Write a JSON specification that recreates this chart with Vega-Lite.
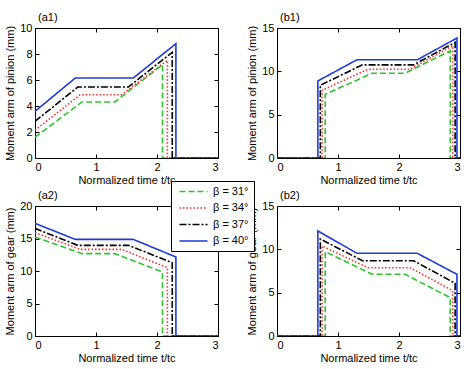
{
  "$schema": "https://vega.github.io/schema/vega-lite/v6.json",
  "padding": {"left": 4, "top": 11, "right": 8, "bottom": 8},
  "background": "white",
  "config": {
    "font": "Liberation Sans",
    "view": {"stroke": "black", "strokeWidth": 1},
    "style": {"guide-title": {"fontWeight": "normal"}},
    "axis": {"grid": false, "domainColor": "black", "tickColor": "black", "labelColor": "black", "titleColor": "black", "labelFontSize": 11, "titleFontSize": 11, "titleFontWeight": "normal", "tickSize": -4, "labelPadding": 7},
    "axisX": {"titlePadding": 2, "titleFontWeight": "normal"},
    "axisY": {"titlePadding": 4, "titleFontWeight": "normal"},
    "title": {"anchor": "start", "frame": "group", "fontSize": 11, "fontWeight": "normal", "offset": -1, "dx": 3},
    "legend": {"strokeColor": "black", "fillColor": "white", "padding": 5, "symbolType": "M-1,0H13", "symbolSize": 16, "symbolStrokeWidth": 1.6, "labelFontSize": 11, "labelOffset": 26, "rowPadding": 4.5, "cornerRadius": 0}
  },
  "data": {"values": [
    {"p":"a1","b":"β = 31°","i":0,"t":0,"v":1.59},{"p":"a1","b":"β = 31°","i":1,"t":0.77,"v":4.31},{"p":"a1","b":"β = 31°","i":2,"t":1.31,"v":4.31},{"p":"a1","b":"β = 31°","i":3,"t":2.09,"v":7.18},{"p":"a1","b":"β = 31°","i":4,"t":2.09,"v":0},{"p":"a1","b":"β = 31°","i":5,"t":3,"v":0},
    {"p":"a1","b":"β = 34°","i":0,"t":0,"v":2.13},{"p":"a1","b":"β = 34°","i":1,"t":0.74,"v":4.87},{"p":"a1","b":"β = 34°","i":2,"t":1.42,"v":4.87},{"p":"a1","b":"β = 34°","i":3,"t":2.17,"v":7.51},{"p":"a1","b":"β = 34°","i":4,"t":2.17,"v":0},{"p":"a1","b":"β = 34°","i":5,"t":3,"v":0},
    {"p":"a1","b":"β = 37°","i":0,"t":0,"v":2.82},{"p":"a1","b":"β = 37°","i":1,"t":0.70,"v":5.46},{"p":"a1","b":"β = 37°","i":2,"t":1.53,"v":5.46},{"p":"a1","b":"β = 37°","i":3,"t":2.25,"v":8.13},{"p":"a1","b":"β = 37°","i":4,"t":2.25,"v":0},{"p":"a1","b":"β = 37°","i":5,"t":3,"v":0},
    {"p":"a1","b":"β = 40°","i":0,"t":0,"v":3.59},{"p":"a1","b":"β = 40°","i":1,"t":0.66,"v":6.15},{"p":"a1","b":"β = 40°","i":2,"t":1.61,"v":6.15},{"p":"a1","b":"β = 40°","i":3,"t":2.31,"v":8.79},{"p":"a1","b":"β = 40°","i":4,"t":2.31,"v":0},{"p":"a1","b":"β = 40°","i":5,"t":3,"v":0},

    {"p":"a2","b":"β = 31°","i":0,"t":0,"v":15.23},{"p":"a2","b":"β = 31°","i":1,"t":0.77,"v":12.67},{"p":"a2","b":"β = 31°","i":2,"t":1.31,"v":12.67},{"p":"a2","b":"β = 31°","i":3,"t":2.09,"v":9.85},{"p":"a2","b":"β = 31°","i":4,"t":2.09,"v":0},{"p":"a2","b":"β = 31°","i":5,"t":3,"v":0},
    {"p":"a2","b":"β = 34°","i":0,"t":0,"v":15.9},{"p":"a2","b":"β = 34°","i":1,"t":0.74,"v":13.33},{"p":"a2","b":"β = 34°","i":2,"t":1.42,"v":13.33},{"p":"a2","b":"β = 34°","i":3,"t":2.17,"v":10.51},{"p":"a2","b":"β = 34°","i":4,"t":2.17,"v":0},{"p":"a2","b":"β = 34°","i":5,"t":3,"v":0},
    {"p":"a2","b":"β = 37°","i":0,"t":0,"v":16.56},{"p":"a2","b":"β = 37°","i":1,"t":0.70,"v":13.95},{"p":"a2","b":"β = 37°","i":2,"t":1.53,"v":13.95},{"p":"a2","b":"β = 37°","i":3,"t":2.25,"v":11.28},{"p":"a2","b":"β = 37°","i":4,"t":2.25,"v":0},{"p":"a2","b":"β = 37°","i":5,"t":3,"v":0},
    {"p":"a2","b":"β = 40°","i":0,"t":0,"v":17.33},{"p":"a2","b":"β = 40°","i":1,"t":0.66,"v":14.87},{"p":"a2","b":"β = 40°","i":2,"t":1.61,"v":14.87},{"p":"a2","b":"β = 40°","i":3,"t":2.31,"v":12.15},{"p":"a2","b":"β = 40°","i":4,"t":2.31,"v":0},{"p":"a2","b":"β = 40°","i":5,"t":3,"v":0},

    {"p":"b1","b":"β = 31°","i":0,"t":0,"v":0},{"p":"b1","b":"β = 31°","i":1,"t":0.79,"v":0},{"p":"b1","b":"β = 31°","i":2,"t":0.79,"v":7.34},{"p":"b1","b":"β = 31°","i":3,"t":1.56,"v":9.78},{"p":"b1","b":"β = 31°","i":4,"t":2.10,"v":9.78},{"p":"b1","b":"β = 31°","i":5,"t":2.84,"v":12.37},{"p":"b1","b":"β = 31°","i":6,"t":2.84,"v":0},{"p":"b1","b":"β = 31°","i":7,"t":3,"v":0},
    {"p":"b1","b":"β = 34°","i":0,"t":0,"v":0},{"p":"b1","b":"β = 34°","i":1,"t":0.74,"v":0},{"p":"b1","b":"β = 34°","i":2,"t":0.74,"v":7.81},{"p":"b1","b":"β = 34°","i":3,"t":1.49,"v":10.24},{"p":"b1","b":"β = 34°","i":4,"t":2.18,"v":10.24},{"p":"b1","b":"β = 34°","i":5,"t":2.88,"v":12.95},{"p":"b1","b":"β = 34°","i":6,"t":2.88,"v":0},{"p":"b1","b":"β = 34°","i":7,"t":3,"v":0},
    {"p":"b1","b":"β = 37°","i":0,"t":0,"v":0},{"p":"b1","b":"β = 37°","i":1,"t":0.71,"v":0},{"p":"b1","b":"β = 37°","i":2,"t":0.71,"v":8.39},{"p":"b1","b":"β = 37°","i":3,"t":1.40,"v":10.75},{"p":"b1","b":"β = 37°","i":4,"t":2.24,"v":10.75},{"p":"b1","b":"β = 37°","i":5,"t":2.92,"v":13.34},{"p":"b1","b":"β = 37°","i":6,"t":2.92,"v":0},{"p":"b1","b":"β = 37°","i":7,"t":3,"v":0},
    {"p":"b1","b":"β = 40°","i":0,"t":0,"v":0},{"p":"b1","b":"β = 40°","i":1,"t":0.67,"v":0},{"p":"b1","b":"β = 40°","i":2,"t":0.67,"v":8.89},{"p":"b1","b":"β = 40°","i":3,"t":1.31,"v":11.33},{"p":"b1","b":"β = 40°","i":4,"t":2.30,"v":11.33},{"p":"b1","b":"β = 40°","i":5,"t":2.95,"v":13.84},{"p":"b1","b":"β = 40°","i":6,"t":2.95,"v":0},{"p":"b1","b":"β = 40°","i":7,"t":3,"v":0},

    {"p":"b2","b":"β = 31°","i":0,"t":0,"v":0},{"p":"b2","b":"β = 31°","i":1,"t":0.79,"v":0},{"p":"b2","b":"β = 31°","i":2,"t":0.79,"v":9.73},{"p":"b2","b":"β = 31°","i":3,"t":1.56,"v":7.12},{"p":"b2","b":"β = 31°","i":4,"t":2.10,"v":7.12},{"p":"b2","b":"β = 31°","i":5,"t":2.84,"v":4.42},{"p":"b2","b":"β = 31°","i":6,"t":2.84,"v":0},{"p":"b2","b":"β = 31°","i":7,"t":3,"v":0},
    {"p":"b2","b":"β = 34°","i":0,"t":0,"v":0},{"p":"b2","b":"β = 34°","i":1,"t":0.74,"v":0},{"p":"b2","b":"β = 34°","i":2,"t":0.74,"v":10.38},{"p":"b2","b":"β = 34°","i":3,"t":1.49,"v":7.88},{"p":"b2","b":"β = 34°","i":4,"t":2.18,"v":7.88},{"p":"b2","b":"β = 34°","i":5,"t":2.88,"v":5.23},{"p":"b2","b":"β = 34°","i":6,"t":2.88,"v":0},{"p":"b2","b":"β = 34°","i":7,"t":3,"v":0},
    {"p":"b2","b":"β = 37°","i":0,"t":0,"v":0},{"p":"b2","b":"β = 37°","i":1,"t":0.71,"v":0},{"p":"b2","b":"β = 37°","i":2,"t":0.71,"v":11.19},{"p":"b2","b":"β = 37°","i":3,"t":1.40,"v":8.69},{"p":"b2","b":"β = 37°","i":4,"t":2.24,"v":8.69},{"p":"b2","b":"β = 37°","i":5,"t":2.92,"v":6.08},{"p":"b2","b":"β = 37°","i":6,"t":2.92,"v":0},{"p":"b2","b":"β = 37°","i":7,"t":3,"v":0},
    {"p":"b2","b":"β = 40°","i":0,"t":0,"v":0},{"p":"b2","b":"β = 40°","i":1,"t":0.67,"v":0},{"p":"b2","b":"β = 40°","i":2,"t":0.67,"v":12.12},{"p":"b2","b":"β = 40°","i":3,"t":1.31,"v":9.54},{"p":"b2","b":"β = 40°","i":4,"t":2.30,"v":9.54},{"p":"b2","b":"β = 40°","i":5,"t":2.95,"v":7.12},{"p":"b2","b":"β = 40°","i":6,"t":2.95,"v":0},{"p":"b2","b":"β = 40°","i":7,"t":3,"v":0}
  ]},
  "bounds": "flush",
  "columns": 2,
  "spacing": {"column": 59, "row": 48},
  "concat": [
    {
      "title": "(a1)", "width": 183, "height": 130,
      "transform": [{"filter": "datum.p == 'a1'"}],
      "layer": [
        {"mark": {"type": "line", "strokeWidth": 1.6, "clip": true},
         "encoding": {
           "x": {"field": "t", "type": "quantitative", "scale": {"domain": [0, 3]}, "axis": {"values": [0, 1, 2, 3], "title": "Normalized time t/tc"}},
           "y": {"field": "v", "type": "quantitative", "scale": {"domain": [0, 10]}, "axis": {"values": [0, 2, 4, 6, 8, 10], "title": "Moment arm of pinion (mm)"}},
           "color": {"field": "b", "type": "nominal", "scale": {"domain": ["β = 31°", "β = 34°", "β = 37°", "β = 40°"], "range": ["#2fc42f", "#ff2a2a", "#000000", "#1f3bd6"]}, "legend": {"title": null, "orient": "none", "legendX": 136, "legendY": 153}},
           "strokeDash": {"field": "b", "type": "nominal", "scale": {"domain": ["β = 31°", "β = 34°", "β = 37°", "β = 40°"], "range": [[6, 3], [1.5, 2], [7, 2, 2, 2], [1, 0]]}, "legend": {"title": null, "orient": "none", "legendX": 136, "legendY": 153}},
           "order": {"field": "i", "type": "quantitative"}
         }},
        {"mark": {"type": "line", "opacity": 0},
         "encoding": {
           "x": {"field": "t", "type": "quantitative", "scale": {"domain": [0, 3]}, "axis": {"orient": "top", "values": [0, 1, 2, 3], "labels": false, "title": null, "domain": false}},
           "y": {"field": "v", "type": "quantitative", "scale": {"domain": [0, 10]}, "axis": {"orient": "right", "values": [0, 2, 4, 6, 8, 10], "labels": false, "title": null, "domain": false}}
         }}
      ],
      "resolve": {"axis": {"x": "independent", "y": "independent"}}
    },
    {
      "title": "(b1)", "width": 183, "height": 130,
      "transform": [{"filter": "datum.p == 'b1'"}],
      "layer": [
        {"mark": {"type": "line", "strokeWidth": 1.6, "clip": true},
         "encoding": {
           "x": {"field": "t", "type": "quantitative", "scale": {"domain": [0, 3]}, "axis": {"values": [0, 1, 2, 3], "title": "Normalized time t/tc"}},
           "y": {"field": "v", "type": "quantitative", "scale": {"domain": [0, 15]}, "axis": {"values": [0, 5, 10, 15], "title": "Moment arm of pinion (mm)"}},
           "color": {"field": "b", "type": "nominal"},
           "strokeDash": {"field": "b", "type": "nominal"},
           "order": {"field": "i", "type": "quantitative"}
         }},
        {"mark": {"type": "line", "opacity": 0},
         "encoding": {
           "x": {"field": "t", "type": "quantitative", "scale": {"domain": [0, 3]}, "axis": {"orient": "top", "values": [0, 1, 2, 3], "labels": false, "title": null, "domain": false}},
           "y": {"field": "v", "type": "quantitative", "scale": {"domain": [0, 15]}, "axis": {"orient": "right", "values": [0, 5, 10, 15], "labels": false, "title": null, "domain": false}}
         }}
      ],
      "resolve": {"axis": {"x": "independent", "y": "independent"}}
    },
    {
      "title": "(a2)", "width": 183, "height": 130,
      "transform": [{"filter": "datum.p == 'a2'"}],
      "layer": [
        {"mark": {"type": "line", "strokeWidth": 1.6, "clip": true},
         "encoding": {
           "x": {"field": "t", "type": "quantitative", "scale": {"domain": [0, 3]}, "axis": {"values": [0, 1, 2, 3], "title": "Normalized time t/tc"}},
           "y": {"field": "v", "type": "quantitative", "scale": {"domain": [0, 20]}, "axis": {"values": [0, 5, 10, 15, 20], "title": "Moment arm of gear (mm)"}},
           "color": {"field": "b", "type": "nominal"},
           "strokeDash": {"field": "b", "type": "nominal"},
           "order": {"field": "i", "type": "quantitative"}
         }},
        {"mark": {"type": "line", "opacity": 0},
         "encoding": {
           "x": {"field": "t", "type": "quantitative", "scale": {"domain": [0, 3]}, "axis": {"orient": "top", "values": [0, 1, 2, 3], "labels": false, "title": null, "domain": false}},
           "y": {"field": "v", "type": "quantitative", "scale": {"domain": [0, 20]}, "axis": {"orient": "right", "values": [0, 5, 10, 15, 20], "labels": false, "title": null, "domain": false}}
         }}
      ],
      "resolve": {"axis": {"x": "independent", "y": "independent"}}
    },
    {
      "title": "(b2)", "width": 183, "height": 130,
      "transform": [{"filter": "datum.p == 'b2'"}],
      "layer": [
        {"mark": {"type": "line", "strokeWidth": 1.6, "clip": true},
         "encoding": {
           "x": {"field": "t", "type": "quantitative", "scale": {"domain": [0, 3]}, "axis": {"values": [0, 1, 2, 3], "title": "Normalized time t/tc"}},
           "y": {"field": "v", "type": "quantitative", "scale": {"domain": [0, 15]}, "axis": {"values": [0, 5, 10, 15], "title": "Moment arm of gear (mm)"}},
           "color": {"field": "b", "type": "nominal"},
           "strokeDash": {"field": "b", "type": "nominal"},
           "order": {"field": "i", "type": "quantitative"}
         }},
        {"mark": {"type": "line", "opacity": 0},
         "encoding": {
           "x": {"field": "t", "type": "quantitative", "scale": {"domain": [0, 3]}, "axis": {"orient": "top", "values": [0, 1, 2, 3], "labels": false, "title": null, "domain": false}},
           "y": {"field": "v", "type": "quantitative", "scale": {"domain": [0, 15]}, "axis": {"orient": "right", "values": [0, 5, 10, 15], "labels": false, "title": null, "domain": false}}
         }}
      ],
      "resolve": {"axis": {"x": "independent", "y": "independent"}}
    }
  ]
}
